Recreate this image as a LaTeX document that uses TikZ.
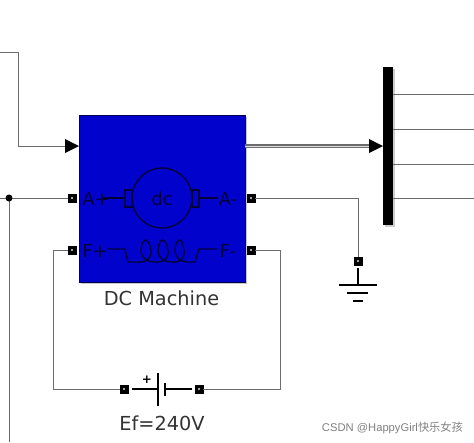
\documentclass[tikz,border=0pt]{standalone}
\usepackage{fontspec}
\setmainfont{DejaVu Sans}
\newfontfamily\wm{Liberation Sans}
\newfontfamily\wmcjk{Noto Sans CJK SC}
\usetikzlibrary{arrows.meta}
\definecolor{wire}{gray}{0.42}
\definecolor{blockblue}{RGB}{2,2,205}
\definecolor{ink}{RGB}{0,0,60}
\tikzset{
 x=1pt,y=-1pt,
 wireline/.style={draw=wire,line width=1pt},
 symbol/.style={draw=black,line width=1.1pt},
 insym/.style={draw=ink,line width=1.4pt},
 port/.style={draw=black,fill=black,minimum size=8pt,inner sep=0pt,outer sep=0pt,
   path picture={\fill[white!75!gray] (path picture bounding box.center) circle (1.2pt);}},
 lbl/.style={font=\fontsize{19.3}{20}\selectfont,text=black!80,inner sep=0pt},
 inlbl/.style={font=\fontsize{18}{18}\selectfont,text=ink,inner sep=0pt}
}
\begin{document}
\begin{tikzpicture}
\useasboundingbox (0,0) rectangle (474,442);
% shadows
\fill[black!22] (81,117) rectangle (247,284);
\fill[black!20] (385,69) rectangle (395,227);
% machine block
\node[draw=black!70!blue,line width=0.8pt,fill=blockblue,minimum width=166pt,minimum height=167pt,inner sep=0pt,outer sep=0pt] (dcm) at (162,198.5) {};
\node[port] (ap) at (72,198) {};
\node[port] (fp) at (72,250) {};
\node[port] (am) at (251,198) {};
\node[port] (fm) at (251,250) {};
\node[lbl,anchor=base] (dcl) at (161.5,305) {DC Machine};
% machine icon
\node[circle,insym,minimum size=60pt,inner sep=0pt] (rotor) at (162,198) {};
\node[inlbl,anchor=base] (dct) at (162,205) {dc};
\node[inlbl,anchor=base] (apl) at (96,205) {A+};
\node[inlbl,anchor=base] (aml) at (228,205) {A-};
\node[inlbl,anchor=base] (fpl) at (95,257) {F+};
\node[inlbl,anchor=base] (fml) at (228,257) {F-};
\draw[insym] (125,190) rectangle (132,207);
\draw[insym] (192.5,190) rectangle (199,207);
\draw[insym] (103,198) -- (125,198);
\draw[insym] (199,198) -- (218,198);
\draw[insym] (107,249) -- (125,249) -- (128,262) -- (136,262)
  .. controls (147,263) and (152,258) .. (151,250)
  .. controls (150,243) and (147,240) .. (146,240)
  .. controls (143,240) and (141,245) .. (141,250)
  .. controls (141,258) and (147,262) .. (154,262)
  .. controls (164,263) and (169,258) .. (168,250)
  .. controls (167,243) and (164,240) .. (163,240)
  .. controls (160,240) and (158,245) .. (158,250)
  .. controls (158,258) and (164,262) .. (171,262)
  .. controls (181,263) and (185,258) .. (184,250)
  .. controls (183,243) and (181,240) .. (180,240)
  .. controls (177,240) and (175,245) .. (175,250)
  .. controls (175,258) and (181,262) .. (187,262)
  -- (195,262) -- (199,249) -- (217,249);
% input signal
\coordinate (s0) at (0,52);
\coordinate (inp) at (79,146);
\draw[wireline] (s0) -- (18,52) -- (18,146) -- (66,146);
\fill[black] (inp) -- (65,139) -- (65,153) -- cycle;
% A+ line
\coordinate (l0) at (0,198);
\coordinate (jd) at (9,198);
\coordinate (l1) at (9,442);
\draw[wireline] (l0) -- (ap.west);
\draw[wireline] (jd) -- (l1);
\fill[black] (jd) circle (3.5pt);
% bus
\node[fill=black,minimum width=10pt,minimum height=158pt,inner sep=0pt,outer sep=0pt] (bus) at (388,146) {};
\foreach \yy/\nm in {94/a,129/b,164/c,198/d}{
  \coordinate (out\nm) at (474,\yy);
  \draw[wireline] (393,\yy) -- (out\nm);
}
% bus wire (double)
\draw[draw=wire,line width=3.4pt] (245,146) -- (370,146);
\draw[draw=white!75!gray,line width=1pt] (245,146) -- (370,146);
\fill[black] (383,146) -- (369,139) -- (369,153) -- cycle;
% ground
\node[port] (gp) at (358,261) {};
\draw[wireline] (am.east) -- (358,198) -- (gp.north);
\draw[symbol] (358,268) -- (358,285);
\draw[symbol] (339,285) -- (377,285);
\draw[symbol] (347,293) -- (368,293);
\draw[symbol] (353,301) -- (363,301);
% field circuit
\node[port] (bl) at (124,389) {};
\node[port] (br) at (199,389) {};
\draw[wireline] (fp.west) -- (53,250) -- (53,389) -- (bl.west);
\draw[wireline] (fm.east) -- (280,250) -- (280,389) -- (br.east);
\draw[symbol] (132,389) -- (158,389);
\draw[symbol,line width=1.4pt] (158,373) -- (158,406);
\draw[symbol,line width=1.4pt] (165,383) -- (165,396);
\draw[symbol] (165,389) -- (192,389);
\node[inner sep=0pt,font=\fontsize{12}{12}\selectfont\bfseries] (plus) at (147,380) {+};
\node[lbl,anchor=base] (efl) at (162,430) {Ef=240V};
% watermark
\node[anchor=east,inner sep=0pt,text=black!50,font=\fontsize{11.2}{12}\selectfont] (wm) at (463,428) {{\wm CSDN @HappyGirl}{\wmcjk 快乐女孩}};
\end{tikzpicture}
\end{document}
